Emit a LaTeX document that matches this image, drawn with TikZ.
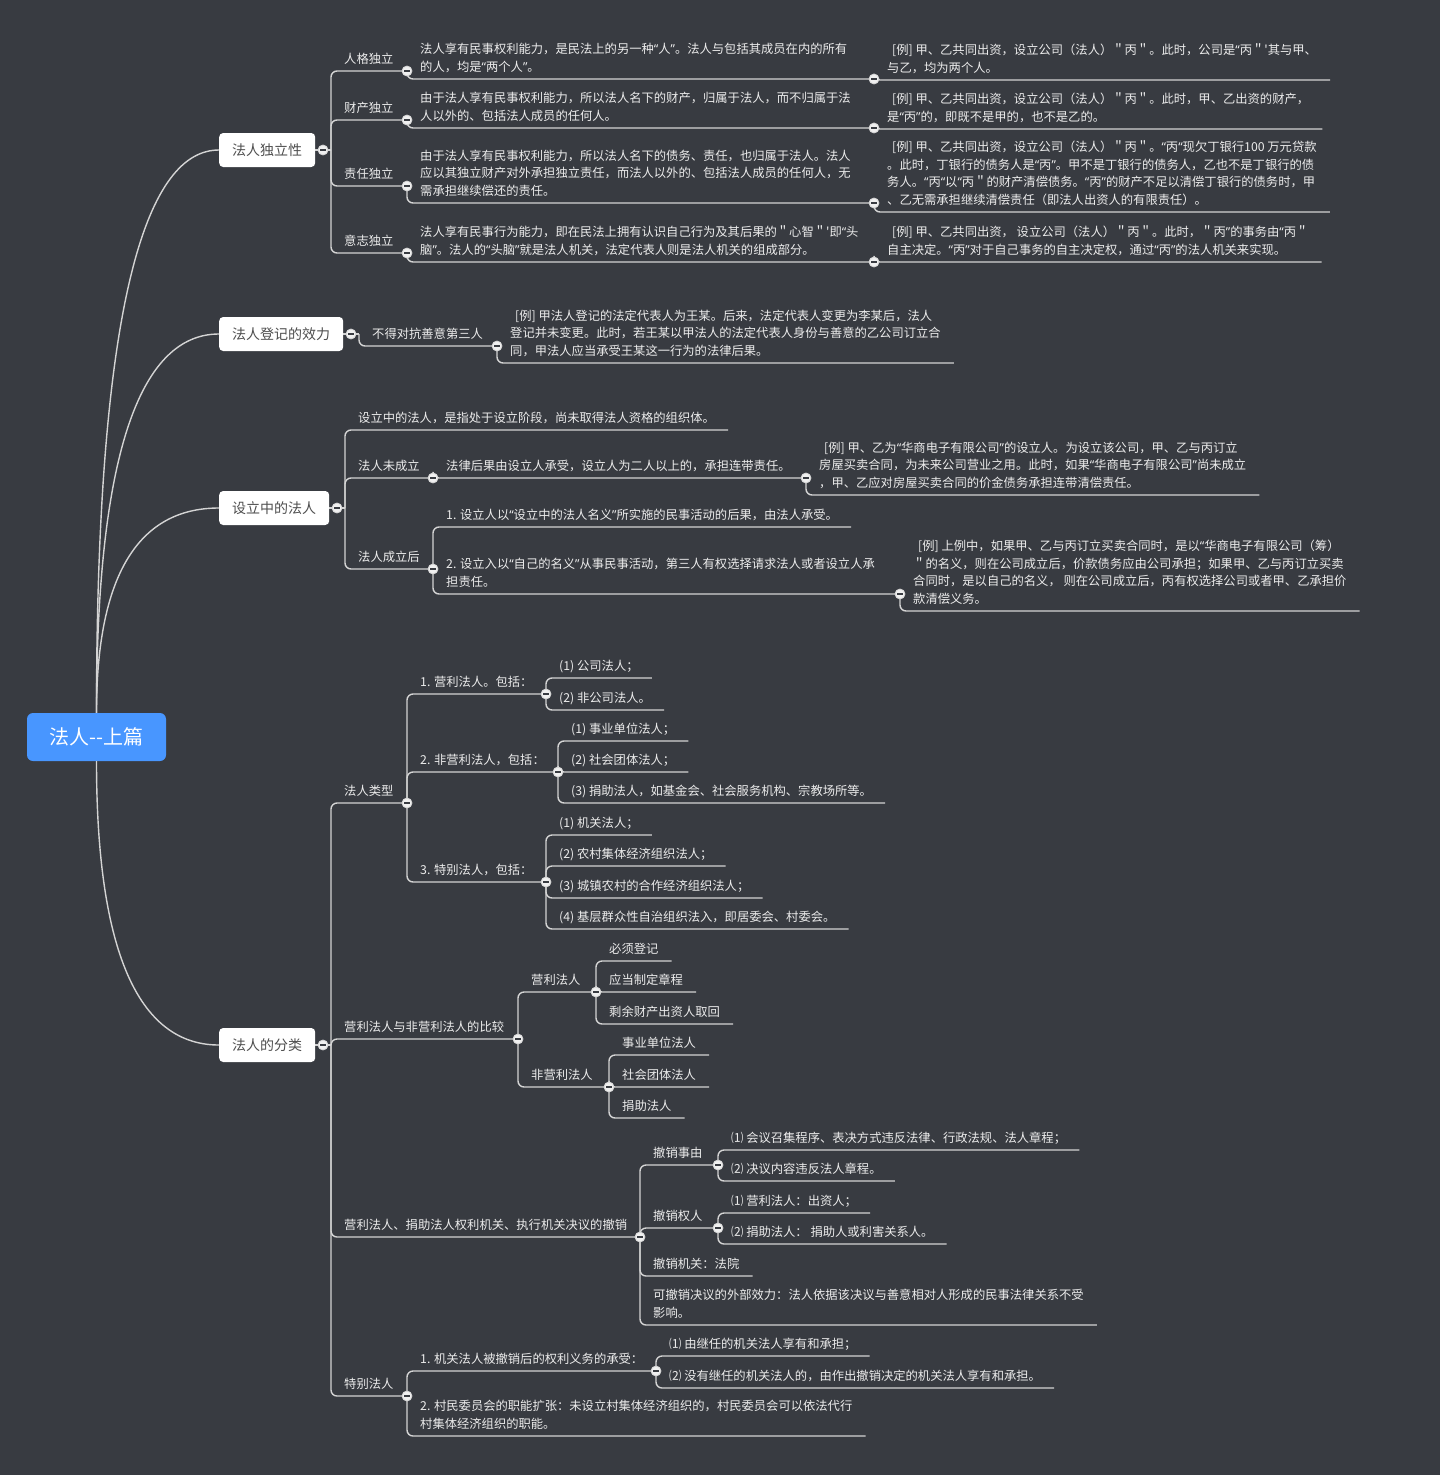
\documentclass[tikz,border=0pt]{standalone}
\usepackage{fontspec}
\usepackage{newunicodechar}
\newfontfamily\cjk{Noto Sans CJK SC}
\newfontfamily\quotefont{Noto Sans}
\newunicodechar{“}{{\quotefont\char"201C}}
\newunicodechar{”}{{\quotefont\char"201D}}
\definecolor{canvasBg}{RGB}{56,59,65}
\definecolor{branchLine}{RGB}{212,212,212}
\definecolor{leafInk}{RGB}{236,236,236}
\definecolor{topicInk}{RGB}{78,78,78}
\definecolor{rootBlue}{RGB}{72,150,255}
\definecolor{knobFill}{RGB}{240,240,240}
\tikzset{
  rootbox/.style={fill=rootBlue, rounded corners=6pt, minimum width=139pt, minimum height=48pt, text=white, font=\cjk\fontsize{20}{24}\selectfont},
  topicbox/.style={fill=white, rounded corners=4pt, anchor=west, minimum height=34pt, inner xsep=13pt, text=topicInk, font=\cjk\fontsize{14}{17}\selectfont},
  leaf/.style={anchor=south west, align=left, inner xsep=13pt, inner ysep=4.5pt, text=leafInk, font=\cjk\fontsize{12.3}{17.6}\selectfont, execute at end node={\rule[-3pt]{0pt}{3pt}}},
  branch/.style={draw=branchLine, line width=1.4pt, rounded corners=6pt},
  rootcurve/.style={draw=branchLine, line width=1.4pt},
  knob/.style={circle, fill=knobFill, draw=branchLine, line width=0.8pt, minimum size=10pt, inner sep=0pt,
    path picture={\draw[canvasBg, line width=1.6pt] ([xshift=-2.8pt]path picture bounding box.center) -- ([xshift=2.8pt]path picture bounding box.center);}}
}

\begin{document}
\begin{tikzpicture}[x=1pt, y=-1pt]
  \fill[canvasBg] (0,0) rectangle (1440,1475);
  \useasboundingbox (0,0) rectangle (1440,1475);

  % root and main topics
  \node[rootbox] (root) at (96.5,737) {法人--上篇};
  \node[topicbox] (t1) at (219,150) {法人独立性};
  \node[topicbox] (t2) at (219,334) {法人登记的效力};
  \node[topicbox] (t3) at (219,508) {设立中的法人};
  \node[topicbox] (t4) at (219,1045) {法人的分类};

  \draw[rootcurve] (root.north) .. controls +(0,-422) and +(-70,0) .. (t1.west);
  \draw[rootcurve] (root.north) .. controls +(0,-284) and +(-70,0) .. (t2.west);
  \draw[rootcurve] (root.north) .. controls +(0,-154) and +(-70,0) .. (t3.west);
  \draw[rootcurve] (root.south) .. controls +(0,213) and +(-70,0) .. (t4.west);

  % knob points
  \coordinate (kT1) at (323,150); \coordinate (bT1) at (331,150);
  \coordinate (k11) at (407,71);  \coordinate (k11b) at (874,79);
  \coordinate (k12) at (407,120); \coordinate (k12b) at (874,128);
  \coordinate (k13) at (407,186); \coordinate (k13b) at (874,203);
  \coordinate (k14) at (407,253); \coordinate (k14b) at (874,262);
  \coordinate (kT2) at (351,334); \coordinate (bT2) at (359,334);
  \coordinate (k21) at (497,346);
  \coordinate (kT3) at (337,508); \coordinate (bT3) at (345,508);
  \coordinate (k32) at (433,478); \coordinate (k32b) at (806,478);
  \coordinate (k33) at (433,569); \coordinate (k33b) at (900,594);
  \coordinate (kT4) at (323,1045); \coordinate (bT4) at (331,1045);
  \coordinate (k41) at (407,803);
  \coordinate (k41a) at (546,694); \coordinate (k41b) at (558,772); \coordinate (k41c) at (546,882);
  \coordinate (k42) at (518,1039);
  \coordinate (k42a) at (596,992); \coordinate (k42b) at (609,1087);
  \coordinate (k43) at (640,1237);
  \coordinate (k43a) at (718,1165); \coordinate (k43b) at (718,1228);
  \coordinate (k44) at (407,1396);
  \coordinate (k44a) at (656,1371);

  % 法人独立性
  \node[leaf] (c11) at (331,71) {人格独立};
  \node[leaf] (d11) at (407,79) {法人享有民事权利能力，是民法上的另一种“人”。法人与包括其成员在内的所有\\的人，均是“两个人”。};
  \node[leaf] (e11) at (874,80) {\hspace{5pt}[例] 甲、乙共同出资，设立公司（法人）＂丙＂。此时，公司是“丙＂'其与甲、\\与乙，均为两个人。};
  \node[leaf] (c12) at (331,120) {财产独立};
  \node[leaf] (d12) at (407,128) {由于法人享有民事权利能力，所以法人名下的财产，归属于法人，而不归属于法\\人以外的、包括法人成员的任何人。};
  \node[leaf] (e12) at (874,129) {\hspace{5pt}[例] 甲、乙共同出资，设立公司（法人）＂丙＂。此时，甲、乙出资的财产，\\是“丙”的，即既不是甲的，也不是乙的。};
  \node[leaf] (c13) at (331,186) {责任独立};
  \node[leaf] (d13) at (407,203) {由于法人享有民事权利能力，所以法人名下的债务、责任，也归属于法人。法人\\应以其独立财产对外承担独立责任，而法人以外的、包括法人成员的任何人，无\\需承担继续偿还的责任。};
  \node[leaf] (e13) at (874,212) {\hspace{5pt}[例] 甲、乙共同出资，设立公司（法人）＂丙＂。“丙“现欠丁银行100 万元贷款\\。此时，丁银行的债务人是“丙”。甲不是丁银行的债务人，乙也不是丁银行的债\\务人。“丙“以“丙＂的财产清偿债务。“丙”的财产不足以清偿丁银行的债务时，甲\\、乙无需承担继续清偿责任（即法人出资人的有限责任）。};
  \node[leaf] (c14) at (331,253) {意志独立};
  \node[leaf] (d14) at (407,262) {法人享有民事行为能力，即在民法上拥有认识自己行为及其后果的＂心智＂'即“头\\脑”。法人的“头脑”就是法人机关，法定代表人则是法人机关的组成部分。};
  \node[leaf] (e14) at (874,262) {\hspace{5pt}[例] 甲、乙共同出资， 设立公司（法人）＂丙＂。此时，＂丙”的事务由“丙＂\\自主决定。“丙”对于自己事务的自主决定权，通过“丙”的法人机关来实现。};

  % 法人登记的效力
  \node[leaf] (c21) at (359,346) {不得对抗善意第三人};
  \node[leaf] (d21) at (497,363) {\hspace{5pt}[例] 甲法人登记的法定代表人为王某。后来，法定代表人变更为李某后，法人\\登记并未变更。此时，若王某以甲法人的法定代表人身份与善意的乙公司订立合\\同，甲法人应当承受王某这一行为的法律后果。};

  % 设立中的法人
  \node[leaf] (c31) at (345,430) {设立中的法人，是指处于设立阶段，尚未取得法人资格的组织体。};
  \node[leaf] (c32) at (345,478) {法人未成立};
  \node[leaf] (d32) at (433,478) {法律后果由设立人承受，设立人为二人以上的，承担连带责任。};
  \node[leaf] (e32) at (806,495) {\hspace{5pt}[例] 甲、乙为“华商电子有限公司”的设立人。为设立该公司，甲、乙与丙订立\\房屋买卖合同，为未来公司营业之用。此时，如果“华商电子有限公司”尚未成立\\，甲、乙应对房屋买卖合同的价金债务承担连带清偿责任。};
  \node[leaf] (c33) at (345,569) {法人成立后};
  \node[leaf] (d33a) at (433,527) {1. 设立人以“设立中的法人名义”所实施的民事活动的后果，由法人承受。};
  \node[leaf] (d33b) at (433,594) {2. 设立入以“自己的名义”从事民事活动，第三人有权选择请求法人或者设立人承\\担责任。};
  \node[leaf] (e33) at (900,611) {\hspace{5pt}[例] 上例中，如果甲、乙与丙订立买卖合同时，是以“华商电子有限公司（筹）\\＂的名义，则在公司成立后，价款债务应由公司承担；如果甲、乙与丙订立买卖\\合同时，是以自己的名义， 则在公司成立后，丙有权选择公司或者甲、乙承担价\\款清偿义务。};

  % 法人的分类
  \node[leaf] (c41) at (331,803) {法人类型};
  \node[leaf] (d41a) at (407,694) {1. 营利法人。包括：};
  \node[leaf] (f1) at (546,678) {(1) 公司法人；};
  \node[leaf] (f2) at (546,710) {(2) 非公司法人。};
  \node[leaf] (d41b) at (407,772) {2. 非营利法人，包括：};
  \node[leaf] (f3) at (558,741) {(1) 事业单位法人；};
  \node[leaf] (f4) at (558,772) {(2) 社会团体法人；};
  \node[leaf] (f5) at (558,803) {(3) 捐助法人，如基金会、社会服务机构、宗教场所等。};
  \node[leaf] (d41c) at (407,882) {3. 特别法人，包括：};
  \node[leaf] (f6) at (546,835) {(1) 机关法人；};
  \node[leaf] (f7) at (546,866) {(2) 农村集体经济组织法人；};
  \node[leaf] (f8) at (546,898) {(3) 城镇农村的合作经济组织法人；};
  \node[leaf] (f9) at (546,929) {(4) 基层群众性自治组织法入，即居委会、村委会。};

  \node[leaf] (c42) at (331,1039) {营利法人与非营利法人的比较};
  \node[leaf] (d42a) at (518,992) {营利法人};
  \node[leaf] (g1) at (596,961) {必须登记};
  \node[leaf] (g2) at (596,992) {应当制定章程};
  \node[leaf] (g3) at (596,1024) {剩余财产出资人取回};
  \node[leaf] (d42b) at (518,1087) {非营利法人};
  \node[leaf] (g4) at (609,1055) {事业单位法人};
  \node[leaf] (g5) at (609,1087) {社会团体法人};
  \node[leaf] (g6) at (609,1118) {捐助法人};

  \node[leaf] (c43) at (331,1237) {营利法人、捐助法人权利机关、执行机关决议的撤销};
  \node[leaf] (d43a) at (640,1165) {撤销事由};
  \node[leaf] (h1) at (718,1150) {⑴ 会议召集程序、表决方式违反法律、行政法规、法人章程；};
  \node[leaf] (h2) at (718,1181) {⑵ 决议内容违反法人章程。};
  \node[leaf] (d43b) at (640,1228) {撤销权人};
  \node[leaf] (h3) at (718,1213) {⑴ 营利法人：出资人；};
  \node[leaf] (h4) at (718,1244) {⑵ 捐助法人： 捐助人或利害关系人。};
  \node[leaf] (d43c) at (640,1276) {撤销机关：法院};
  \node[leaf] (d43d) at (640,1325) {可撤销决议的外部效力：法人依据该决议与善意相对人形成的民事法律关系不受\\影响。};

  \node[leaf] (c44) at (331,1396) {特别法人};
  \node[leaf] (d44a) at (407,1371) {1. 机关法人被撤销后的权利义务的承受：};
  \node[leaf] (i1) at (656,1356) {⑴ 由继任的机关法人享有和承担；};
  \node[leaf] (i2) at (656,1388) {⑵ 没有继任的机关法人的，由作出撤销决定的机关法人享有和承担。};
  \node[leaf] (d44b) at (407,1436) {2. 村民委员会的职能扩张：未设立村集体经济组织的，村民委员会可以依法代行\\村集体经济组织的职能。};

  % connectors
  \draw[branch] (t1.east) -- (kT1) -- (bT1);
  \foreach \k in {k11,k12,k13,k14} \draw[branch] (bT1) |- (\k);
  \draw[branch] (k11) |- (k11b);
  \draw[branch] (k12) |- (k12b);
  \draw[branch] (k13) |- (k13b);
  \draw[branch] (k14) |- (k14b);
  \draw[branch] (k11b) |- (e11.south east);
  \draw[branch] (k12b) |- (e12.south east);
  \draw[branch] (k13b) |- (e13.south east);
  \draw[branch] (k14b) |- (e14.south east);

  \draw[branch] (t2.east) -- (kT2) -- (bT2);
  \draw[branch] (bT2) |- (k21);
  \draw[branch] (k21) |- (d21.south east);

  \draw[branch] (t3.east) -- (kT3) -- (bT3);
  \draw[branch] (bT3) |- (c31.south east);
  \draw[branch] (bT3) |- (k32);
  \draw[branch] (bT3) |- (k33);
  \draw[branch] (k32) |- (k32b);
  \draw[branch] (k32b) |- (e32.south east);
  \draw[branch] (k33) |- (d33a.south east);
  \draw[branch] (k33) |- (k33b);
  \draw[branch] (k33b) |- (e33.south east);

  \draw[branch] (t4.east) -- (kT4) -- (bT4);
  \foreach \k in {k41,k42,k43,k44} \draw[branch] (bT4) |- (\k);
  \foreach \k in {k41a,k41b,k41c} \draw[branch] (k41) |- (\k);
  \foreach \n in {f1,f2} \draw[branch] (k41a) |- (\n.south east);
  \foreach \n in {f3,f4,f5} \draw[branch] (k41b) |- (\n.south east);
  \foreach \n in {f6,f7,f8,f9} \draw[branch] (k41c) |- (\n.south east);
  \foreach \k in {k42a,k42b} \draw[branch] (k42) |- (\k);
  \foreach \n in {g1,g2,g3} \draw[branch] (k42a) |- (\n.south east);
  \foreach \n in {g4,g5,g6} \draw[branch] (k42b) |- (\n.south east);
  \foreach \k in {k43a,k43b} \draw[branch] (k43) |- (\k);
  \foreach \n in {d43c,d43d} \draw[branch] (k43) |- (\n.south east);
  \foreach \n in {h1,h2} \draw[branch] (k43a) |- (\n.south east);
  \foreach \n in {h3,h4} \draw[branch] (k43b) |- (\n.south east);
  \draw[branch] (k44) |- (k44a);
  \draw[branch] (k44) |- (d44b.south east);
  \foreach \n in {i1,i2} \draw[branch] (k44a) |- (\n.south east);

  % collapse knobs
  \foreach \k in {kT1,k11,k12,k13,k14,k11b,k12b,k13b,k14b,kT2,k21,kT3,k32,k32b,k33,k33b,kT4,k41,k41a,k41b,k41c,k42,k42a,k42b,k43,k43a,k43b,k44,k44a}
    \node[knob] (\k-dot) at (\k) {};
\end{tikzpicture}
\end{document}
